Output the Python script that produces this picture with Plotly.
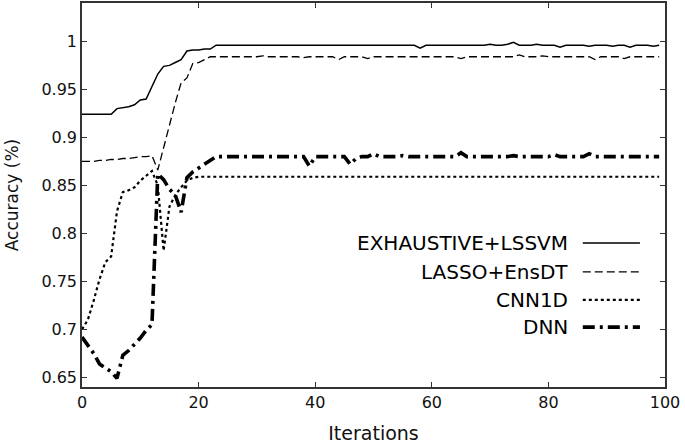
import plotly.graph_objects as go

iterations = list(range(100))

lssvm = [0.924, 0.924, 0.924, 0.924, 0.924, 0.924, 0.930, 0.931, 0.932, 0.934,
         0.939, 0.940, 0.953, 0.966, 0.974, 0.975, 0.978, 0.981, 0.990, 0.991,
         0.991, 0.992, 0.992, 0.996, 0.996, 0.996, 0.996, 0.996, 0.996, 0.996,
         0.996, 0.996, 0.996, 0.996, 0.996, 0.996, 0.996, 0.996, 0.996, 0.996,
         0.996, 0.996, 0.996, 0.996, 0.996, 0.996, 0.996, 0.996, 0.996, 0.996,
         0.996, 0.996, 0.996, 0.996, 0.996, 0.996, 0.996, 0.996, 0.993, 0.996,
         0.996, 0.996, 0.996, 0.996, 0.996, 0.996, 0.996, 0.996, 0.996, 0.996,
         0.997, 0.996, 0.996, 0.997, 0.999, 0.996, 0.996, 0.996, 0.997, 0.996,
         0.996, 0.996, 0.994, 0.996, 0.996, 0.996, 0.996, 0.995, 0.996, 0.996,
         0.996, 0.995, 0.996, 0.996, 0.994, 0.996, 0.996, 0.996, 0.995, 0.996]

lasso = [0.875, 0.875, 0.875, 0.876, 0.876, 0.877, 0.877, 0.878, 0.878, 0.879,
         0.880, 0.880, 0.881, 0.866, 0.890, 0.913, 0.936, 0.957, 0.962, 0.977,
         0.978, 0.981, 0.984, 0.984, 0.984, 0.984, 0.984, 0.984, 0.984, 0.984,
         0.984, 0.985, 0.984, 0.984, 0.984, 0.984, 0.984, 0.984, 0.983, 0.984,
         0.984, 0.984, 0.984, 0.984, 0.981, 0.984, 0.984, 0.984, 0.984, 0.982,
         0.984, 0.984, 0.984, 0.984, 0.984, 0.984, 0.984, 0.984, 0.984, 0.984,
         0.984, 0.984, 0.984, 0.984, 0.984, 0.982, 0.984, 0.984, 0.984, 0.984,
         0.984, 0.984, 0.984, 0.984, 0.984, 0.986, 0.984, 0.984, 0.984, 0.985,
         0.984, 0.984, 0.984, 0.984, 0.984, 0.984, 0.984, 0.984, 0.981, 0.984,
         0.984, 0.984, 0.984, 0.982, 0.984, 0.984, 0.984, 0.984, 0.984, 0.984]

cnn1d = [0.700, 0.710, 0.730, 0.752, 0.770, 0.776, 0.823, 0.843, 0.845, 0.848,
         0.855, 0.860, 0.865, 0.850, 0.782, 0.828, 0.840, 0.848, 0.855, 0.858,
         0.859, 0.859, 0.859, 0.859, 0.859, 0.859, 0.859, 0.859, 0.859, 0.859,
         0.859, 0.859, 0.859, 0.859, 0.859, 0.859, 0.859, 0.859, 0.859, 0.859,
         0.859, 0.859, 0.859, 0.859, 0.859, 0.859, 0.859, 0.859, 0.859, 0.859,
         0.859, 0.859, 0.859, 0.859, 0.859, 0.859, 0.859, 0.859, 0.859, 0.859,
         0.859, 0.859, 0.859, 0.859, 0.859, 0.859, 0.859, 0.859, 0.859, 0.859,
         0.859, 0.859, 0.859, 0.859, 0.859, 0.859, 0.859, 0.859, 0.859, 0.859,
         0.859, 0.859, 0.859, 0.859, 0.859, 0.859, 0.859, 0.859, 0.859, 0.859,
         0.859, 0.859, 0.859, 0.859, 0.859, 0.859, 0.859, 0.859, 0.859, 0.859]

dnn = [0.692, 0.683, 0.675, 0.664, 0.660, 0.656, 0.649, 0.673, 0.678, 0.684,
       0.691, 0.699, 0.705, 0.862, 0.856, 0.846, 0.840, 0.822, 0.858, 0.864,
       0.868, 0.872, 0.877, 0.880, 0.880, 0.880, 0.880, 0.880, 0.880, 0.880,
       0.880, 0.880, 0.880, 0.880, 0.880, 0.880, 0.880, 0.880, 0.880, 0.870,
       0.880, 0.880, 0.880, 0.880, 0.880, 0.880, 0.872, 0.878, 0.880, 0.880,
       0.883, 0.880, 0.880, 0.880, 0.880, 0.881, 0.880, 0.880, 0.880, 0.880,
       0.880, 0.880, 0.880, 0.880, 0.880, 0.884, 0.880, 0.880, 0.880, 0.880,
       0.880, 0.880, 0.880, 0.880, 0.881, 0.880, 0.880, 0.880, 0.880, 0.880,
       0.880, 0.882, 0.880, 0.880, 0.880, 0.880, 0.880, 0.883, 0.880, 0.880,
       0.880, 0.880, 0.880, 0.880, 0.880, 0.880, 0.880, 0.880, 0.880, 0.880]

names = ["EXHAUSTIVE+LSSVM", "LASSO+EnsDT", "CNN1D", "DNN"]
series = [lssvm, lasso, cnn1d, dnn]
widths = [1.5, 1.3, 2.2, 3.6]
dashes = ["solid", "8px,4px", "3px,3px", "12px,5px,3px,5px"]

font = "DejaVu Sans"
fig = go.Figure()
for name, vals, w, d in zip(names, series, widths, dashes):
    fig.add_trace(go.Scatter(x=iterations, y=vals, name=name, mode="lines",
                             line=dict(color="black", width=w, dash=d)))

# legend drawn by hand: text on the left, line sample on the right
leg_y = [0.375, 0.30, 0.227, 0.156]
for name, w, d, yy in zip(names, widths, dashes, leg_y):
    fig.add_annotation(x=0.837, y=yy, xref="paper", yref="paper", text=name,
                       showarrow=False, xanchor="right", yanchor="middle",
                       font=dict(family=font, size=20, color="black"))
    fig.add_shape(type="line", xref="paper", yref="paper",
                  x0=0.859, x1=0.957, y0=yy, y1=yy,
                  line=dict(color="black", width=w, dash=d))

axis_common = dict(showline=True, linecolor="#333", linewidth=1.5, mirror="ticks",
                   ticks="inside", ticklen=5, tickcolor="#333", showgrid=False,
                   zeroline=False, automargin=False,
                   tickfont=dict(family=font, size=16, color="#111"))

fig.update_layout(
    width=685, height=446,
    margin=dict(l=82, r=20, t=3, b=59),
    plot_bgcolor="white", paper_bgcolor="white",
    showlegend=False,
    xaxis=dict(range=[0, 100], dtick=20, title=dict(text="Iterations", standoff=16,
               font=dict(family=font, size=19, color="#111")), **axis_common),
    yaxis=dict(range=[0.64, 1.04], dtick=0.05, tick0=0, title=dict(text="Accuracy (%)", standoff=18,
               font=dict(family=font, size=17, color="#111")), **axis_common),
)

# the page's default body margin would shift the figure by 8px
fig.write_html("out.html", config={"displayModeBar": False},
               post_script="document.body.style.margin='0';")
